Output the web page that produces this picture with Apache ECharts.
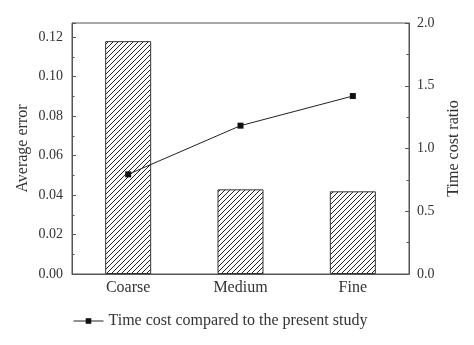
<!DOCTYPE html>
<html><head><meta charset="utf-8">
<script src="https://cdn.jsdelivr.net/npm/echarts@6/dist/echarts.min.js"></script>
<style>html,body{margin:0;padding:0;background:#fff}#c{width:474px;height:345px}</style>
</head><body><div id="c"></div>
<script>
var categories = ['Coarse', 'Medium', 'Fine'];
var averageError = [0.118, 0.0429, 0.0419];
var timeCostRatio = [0.794, 1.182, 1.418];
var lineName = 'Time cost compared to the present study';

function hatch() {
  var c = document.createElement('canvas');
  c.width = 5; c.height = 5;
  var g = c.getContext('2d');
  g.fillStyle = '#fff'; g.fillRect(0, 0, 5, 5);
  g.strokeStyle = '#222'; g.lineWidth = 1;
  g.beginPath();
  g.moveTo(-1, 6); g.lineTo(6, -1);
  g.moveTo(-1, 1); g.lineTo(1, -1);
  g.moveTo(4, 6); g.lineTo(6, 4);
  g.stroke();
  return c;
}
var font = 'Liberation Serif';
var axisCol = '#555';
var txt = '#333';
var chart = echarts.init(document.getElementById('c'));
chart.setOption({
  animation: false,
  textStyle: { fontFamily: font },
  grid: { left: 72, right: 65, top: 23, bottom: 71, show: true, borderColor: axisCol, borderWidth: 1, backgroundColor: 'transparent' },
  legend: {
    data: [lineName], bottom: 11, left: 68, itemWidth: 30, itemHeight: 7, itemGap: 10,
    lineStyle: { width: 1 },
    textStyle: { fontFamily: font, fontSize: 16, color: txt }
  },
  xAxis: {
    type: 'category', data: categories,
    axisLine: { lineStyle: { color: axisCol } },
    axisTick: { show: false },
    axisLabel: { fontFamily: font, fontSize: 16, color: txt, margin: 6 }
  },
  yAxis: [{
    type: 'value', min: 0, max: 0.1272, interval: 0.02,
    name: 'Average error', nameLocation: 'middle', nameGap: 41, nameMoveOverlap: false,
    nameTextStyle: { fontFamily: font, fontSize: 16, color: txt },
    axisLine: { show: true, lineStyle: { color: axisCol } },
    axisTick: { show: true, inside: true, length: 4, lineStyle: { color: axisCol } },
    minorTick: { show: true, splitNumber: 2, length: 2.5, lineStyle: { color: axisCol } },
    splitLine: { show: false },
    axisLabel: { fontFamily: font, fontSize: 14, color: txt, margin: 9, showMaxLabel: false,
      formatter: function (v) { return v.toFixed(2); } }
  }, {
    type: 'value', min: 0, max: 2, interval: 0.5, position: 'right',
    name: 'Time cost ratio', nameLocation: 'middle', nameGap: 35, nameRotate: 90,
    nameTextStyle: { fontFamily: font, fontSize: 16, color: txt },
    axisLine: { show: true, lineStyle: { color: axisCol } },
    axisTick: { show: true, inside: true, length: 4, lineStyle: { color: axisCol } },
    minorTick: { show: true, splitNumber: 2, length: 2.5, lineStyle: { color: axisCol } },
    splitLine: { show: false },
    axisLabel: { fontFamily: font, fontSize: 14, color: txt, margin: 8,
      formatter: function (v) { return v.toFixed(1); } }
  }],
  series: [{
    type: 'bar', name: 'Average error', data: averageError, yAxisIndex: 0,
    barWidth: 46,
    itemStyle: { color: { image: hatch(), repeat: 'repeat' }, borderColor: '#333', borderWidth: 1 }
  }, {
    type: 'line', name: lineName, data: timeCostRatio, yAxisIndex: 1,
    symbol: 'rect', symbolSize: 6,
    lineStyle: { color: '#222', width: 1 },
    itemStyle: { color: '#111' }
  }]
});
</script></body></html>
